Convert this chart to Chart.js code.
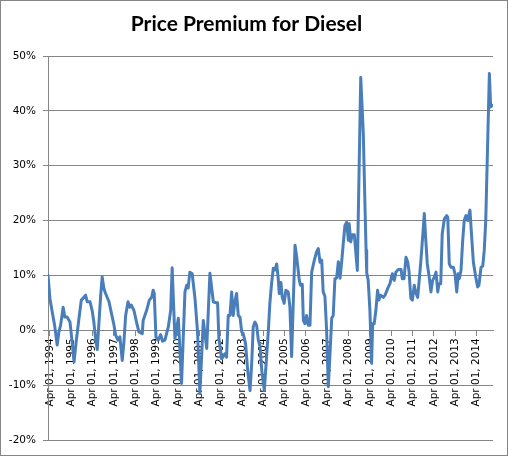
<!DOCTYPE html>
<html><head><meta charset="utf-8">
<script src="https://cdn.jsdelivr.net/npm/chart.js@4"></script>
<style>html,body{margin:0;padding:0;background:#fff;} #wrap{width:508px;height:456px;position:relative;}</style>
</head><body><div id="wrap"><canvas id="c"></canvas></div>
<script>
const chartTitle = 'Price Premium for Diesel';
const dates = [
1994.16,1994.25,1994.36,1994.47,1994.59,1994.67,1994.75,1994.87,1994.95,
1995.06,1995.19,1995.30,1995.38,1995.48,1995.61,1995.72,1995.84,1995.92,
1996.00,1996.13,1996.23,1996.31,1996.39,1996.47,1996.55,1996.63,1996.70,1996.78,1996.86,
1997.02,1997.14,1997.25,1997.33,1997.44,1997.53,1997.64,1997.72,1997.80,1997.91,1997.99,
1998.06,1998.19,1998.31,1998.42,1998.58,1998.62,1998.78,1998.91,
1999.02,1999.09,1999.14,1999.22,1999.33,1999.44,1999.53,1999.64,1999.80,1999.91,1999.98,
2000.11,2000.27,2000.42,2000.58,2000.66,2000.73,2000.81,2000.92,
2001.05,2001.17,2001.28,2001.44,2001.60,2001.75,2001.91,
2002.03,2002.11,2002.17,2002.30,2002.45,2002.53,2002.61,2002.69,2002.77,2002.84,2002.92,
2003.00,2003.08,2003.16,2003.24,2003.31,2003.42,2003.52,2003.63,2003.71,2003.78,2003.86,2003.94,
2004.02,2004.10,2004.18,2004.30,2004.49,2004.56,2004.64,2004.72,2004.80,2004.88,2004.95,
2005.00,2005.08,2005.14,2005.23,2005.31,2005.42,2005.50,2005.58,2005.74,2005.82,2005.94,
2006.00,2006.08,2006.13,2006.20,2006.28,2006.36,2006.44,2006.52,2006.64,2006.75,2006.83,2006.91,2006.99,
2007.06,2007.14,2007.22,2007.30,2007.38,2007.46,2007.53,2007.61,2007.69,2007.77,2007.85,2007.93,
2008.00,2008.08,2008.16,2008.24,2008.28,2008.35,2008.42,2008.52,2008.58,2008.66,2008.82,2008.94,
2009.02,2009.07,2009.10,2009.17,2009.25,2009.33,2009.38,2009.45,2009.53,2009.61,2009.67,2009.75,2009.88,2009.96,
2010.08,2010.19,2010.30,2010.39,2010.47,2010.58,2010.71,2010.77,2010.85,2010.94,
2011.02,2011.08,2011.17,2011.24,2011.33,2011.39,2011.49,2011.56,2011.64,2011.75,2011.80,2011.86,2011.94,
2012.02,2012.11,2012.19,2012.27,2012.35,2012.43,2012.49,2012.57,2012.64,2012.74,2012.85,2012.90,2012.97,
2013.05,2013.16,2013.24,2013.32,2013.39,2013.44,2013.52,2013.60,2013.67,2013.75,2013.83,2013.94,
2014.02,2014.10,2014.21,2014.30,2014.36,2014.46,2014.54,2014.61,2014.68,2014.85,2014.91,2014.99
];
const premium = [
10,5.8,3.3,0.9,-2.7,-0.3,0.9,4.2,2.4,
2.4,1.5,-2.4,-5.8,-2.1,2.1,5.5,6,6.4,
5.2,5.2,3.6,1.5,-1.5,-3.5,1.5,6.4,9.7,7.6,6.7,
5.2,3,1,-0.9,-1.8,-1.2,-5.5,-2.1,2.7,5.2,4.2,
4.6,3.6,1.5,-0.3,-0.6,1.8,3.6,5.5,
6,7.3,6.7,-1.2,-1.8,-0.8,-2,-1.8,0.6,3.6,11.4,
-1.5,2.2,-9.7,7,8.2,7.7,10.6,10.3,
5.8,-0.3,-11.5,1.8,-3.3,10.4,5.2,
5,5,-1.5,-5.2,-4.3,-4.9,2.7,2.7,7,2.7,5.2,
6.7,2.7,2.4,-0.3,-0.6,-2.4,-7.3,-11,-6,0.6,1.5,0.9,
-1.8,-3,-7.3,-11,0,4.9,8.5,11.3,11,12.1,9.5,
6.7,8.7,6,4.9,7.3,7,4.2,-4.8,15.5,13.3,9.1,
8.2,8.4,1.8,1.2,2.7,0.9,0.9,10.6,12.7,14.3,14.9,12.4,12.8,
7,6.2,0,-10.3,-4.2,2.2,2.7,9.4,9.5,12.5,9.5,12.6,
15.8,19.1,19.7,16.4,19.4,16.1,17.4,17.4,14.6,10.9,46.1,35.9,
22.5,14.6,10.5,9.1,3.6,-6,1.2,1.2,3.6,7.3,5.5,6.4,6,6.4,
7.6,8.5,10.3,9.1,10.6,11.1,11.1,9.4,9.4,13.3,
12.5,10.9,5.8,5.5,8.2,7,6,9.1,12.7,18.5,21.3,17,12.1,
10,7,9.1,9.7,10.6,7,8.5,8.5,17.6,20.3,20.9,20.6,12.1,
11.5,11.5,10.3,7,10.3,9.4,10.9,16.4,20,20.9,20,21.9,
17,12.4,9.7,7.9,8.2,11.5,11.7,14.6,20,46.8,40.7,41
];
const yTicks = [-20,-10,0,10,20,30,40,50];
const labelYears = [1994,1995,1996,1997,1998,1999,2000,2001,2002,2003,2004,2005,2006,2007,2008,2009,2010,2011,2012,2013,2014];
const xMin = 1994.16, xMax = 2015.02;

const frame = {
  id: 'frame',
  beforeDraw(c) { const g = c.ctx; g.save(); g.fillStyle = '#fff'; g.fillRect(0, 0, c.width, c.height); g.restore(); },
  afterDraw(c) { const g = c.ctx; g.save(); g.strokeStyle = '#868686'; g.lineWidth = 1; g.strokeRect(0.5, 0.5, c.width - 1, c.height - 1); g.restore(); }
};

new Chart(document.getElementById('c'), {
  type: 'line',
  data: { datasets: [{
    data: dates.map((d, i) => ({ x: d, y: premium[i] })),
    borderColor: '#4a7ebb', borderWidth: 3, pointRadius: 0, tension: 0,
    borderJoinStyle: 'round', borderCapStyle: 'round', fill: false
  }] },
  plugins: [frame],
  options: {
    responsive: true, maintainAspectRatio: false, animation: false,
    layout: { padding: { left: 0, right: 15, top: 0, bottom: 16 } },
    plugins: {
      legend: { display: false }, tooltip: { enabled: false },
      title: { display: true, text: chartTitle, color: '#000',
        font: { family: 'Lato', size: 21, weight: 'bold' }, padding: { top: 12, bottom: 18.8 } }
    },
    scales: {
      x: { type: 'linear', min: xMin, max: xMax, position: { y: 0 },
        afterBuildTicks: s => { s.ticks = labelYears.map(y => ({ value: y + 0.25 })); },
        afterFit: s => { s.height = 0; },
        ticks: { autoSkip: false, minRotation: 90, maxRotation: 90, padding: 3, color: '#000',
          font: { family: 'DejaVu Sans', size: 10.5 }, callback: v => 'Apr 01, ' + Math.round(v - 0.25) },
        grid: { display: true, drawOnChartArea: false, drawTicks: true, tickLength: 5, color: '#868686' },
        border: { display: true, color: '#868686', width: 1 } },
      y: { min: -20, max: 50,
        afterBuildTicks: s => { s.ticks = yTicks.map(v => ({ value: v })); },
        afterFit: s => { s.width = 48; },
        ticks: { padding: 7, color: '#000', font: { family: 'DejaVu Sans', size: 10.5 }, callback: v => v + '%' },
        grid: { color: '#868686', tickLength: 5 },
        border: { display: true, color: '#868686' } }
    }
  }
});
</script></body></html>
